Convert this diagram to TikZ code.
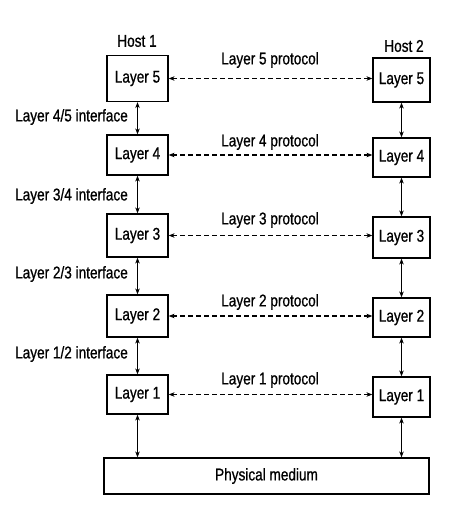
\documentclass[tikz,border=0pt]{standalone}
\usepackage{fontspec}
\setmainfont{Liberation Sans}[FakeStretch=0.8,FakeBold=0.8]
\usetikzlibrary{arrows.meta}
\begin{document}
\begin{tikzpicture}[x=1pt,y=-1pt,
  txt/.style={font=\fontsize{17}{19}\selectfont},
  lbox/.style={draw,line width=1.2pt,minimum width=61pt,minimum height=43pt,inner sep=0pt,txt},
  rbox/.style={draw,line width=1.2pt,minimum width=57pt,minimum height=41pt,inner sep=0pt,txt},
  lbl/.style={inner sep=0pt,txt},
  proto/.style={line width=1.1pt,dash pattern=on 5pt off 3pt,{Stealth[length=6pt,width=4.5pt]}-{Stealth[length=6pt,width=4.5pt]}},
  iface/.style={line width=1.2pt,{Stealth[length=6pt,width=4.5pt]}-{Stealth[length=6pt,width=4.5pt]}}]
\useasboundingbox (0,0) rectangle (474,513);
\node[lbl] (h1) at (137,41) {Host 1};
\node[lbl] (h2) at (404,46) {Host 2};
\node[lbox,minimum height=46pt] (L5) at (137.5,78.5) {Layer 5};
\node[rbox,minimum height=44pt] (R5) at (401.5,80) {Layer 5};
\node[lbox,minimum height=40pt] (L4) at (137.5,155) {Layer 4};
\node[rbox,minimum height=39pt] (R4) at (401.5,157.5) {Layer 4};
\node[lbox] (L3) at (137.5,235.5) {Layer 3};
\node[rbox] (R3) at (401.5,237.5) {Layer 3};
\node[lbox,minimum height=42pt] (L2) at (137.5,316) {Layer 2};
\node[rbox,minimum height=39pt] (R2) at (401.5,317.5) {Layer 2};
\node[lbox,minimum height=39pt] (L1) at (137.5,394.5) {Layer 1};
\node[rbox,minimum height=40pt] (R1) at (401.5,397) {Layer 1};
\node[draw,line width=1.2pt,minimum width=325pt,minimum height=36pt,inner sep=0pt,txt] (PM) at (266.5,476) {Physical medium};
% protocol labels
\node[lbl] (p5) at (270,60) {Layer 5 protocol};
\node[lbl] (p4) at (270,142) {Layer 4 protocol};
\node[lbl] (p3) at (270,220) {Layer 3 protocol};
\node[lbl] (p2) at (270,302) {Layer 2 protocol};
\node[lbl] (p1) at (270,380) {Layer 1 protocol};
% interface labels
\node[lbl,anchor=east] (i45) at (128,117) {Layer 4/5 interface};
\node[lbl,anchor=east] (i34) at (128,196) {Layer 3/4 interface};
\node[lbl,anchor=east] (i23) at (128,274) {Layer 2/3 interface};
\node[lbl,anchor=east] (i12) at (128,354) {Layer 1/2 interface};
% protocol arrows
\foreach \n in {5,4,3,2,1}{
  \draw[proto] (L\n.east) -- (L\n.east -| R\n.west);
}
% interface arrows
\draw[iface] (L5.south) -- (L4.north);
\draw[iface] (L4.south) -- (L3.north);
\draw[iface] (L3.south) -- (L2.north);
\draw[iface] (L2.south) -- (L1.north);
\draw[iface] (R5.south) -- (R4.north);
\draw[iface] (R4.south) -- (R3.north);
\draw[iface] (R3.south) -- (R2.north);
\draw[iface] (R2.south) -- (R1.north);
\draw[iface] (L1.south) -- (L1.south |- PM.north);
\draw[iface] (R1.south) -- (R1.south |- PM.north);
\end{tikzpicture}
\end{document}
